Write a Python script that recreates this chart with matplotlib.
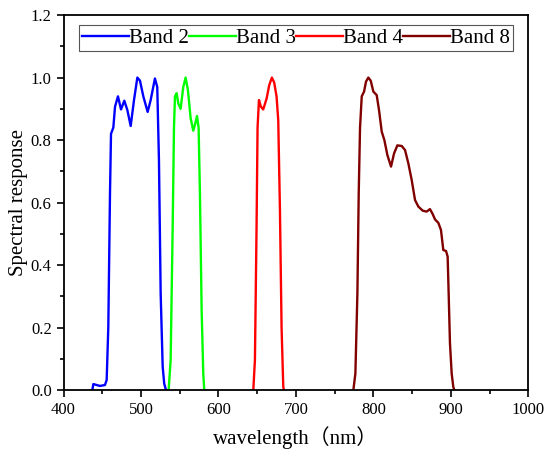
import matplotlib
matplotlib.use("Agg")
from matplotlib import pyplot as plt
from matplotlib.ticker import MultipleLocator

## values
b2_nm = [437.2, 438.5, 442.8, 447.0, 453.5, 455.7, 457.8, 460.0, 461.3, 464.3, 466.5, 470.3,
         474.2, 478.5, 482.4, 486.7, 491.0, 495.3, 498.7, 503.0, 508.6, 512.5, 518.0, 521.0,
         523.2, 525.4, 528.0, 530.0, 532.3]
b2_resp = [0.0, 0.019, 0.016, 0.013, 0.016, 0.032, 0.2, 0.63, 0.82, 0.84, 0.907, 0.94,
           0.898, 0.926, 0.896, 0.845, 0.928, 1.0, 0.99, 0.94, 0.89, 0.928, 0.997, 0.97,
           0.736, 0.31, 0.075, 0.02, 0.0]

b3_nm = [535.7, 538.3, 540.9, 542.6, 543.9, 546.0, 548.2, 551.2, 554.6, 557.6, 560.6, 564.1,
         567.5, 570.1, 572.3, 574.4, 576.1, 578.3, 580.4, 581.7]
b3_resp = [0.0, 0.096, 0.52, 0.84, 0.94, 0.95, 0.917, 0.90, 0.97, 1.0, 0.96, 0.87,
           0.83, 0.853, 0.877, 0.84, 0.63, 0.256, 0.053, 0.0]

b4_nm = [645.0, 647.1, 649.2, 650.5, 652.3, 654.8, 657.8, 662.2, 665.6, 669.0, 672.0, 675.0,
         677.2, 679.4, 681.5, 683.7, 684.5]
b4_resp = [0.0, 0.096, 0.52, 0.84, 0.928, 0.907, 0.898, 0.933, 0.976, 1.0, 0.984, 0.94,
           0.864, 0.576, 0.2, 0.01, 0.0]

b8_nm = [774.2, 776.8, 779.4, 781.1, 782.8, 785.0, 788.0, 790.5, 793.5, 796.6, 800.0, 804.3,
         807.3, 810.8, 814.2, 818.1, 822.8, 826.7, 831.0, 836.6, 840.9, 845.2, 849.5, 853.8,
         858.1, 863.7, 868.8, 873.1, 876.6, 879.6, 883.9, 887.3, 890.3, 893.8, 895.9, 897.2,
         898.9, 901.1, 903.2, 904.5]
b8_resp = [0.0, 0.053, 0.31, 0.63, 0.84, 0.94, 0.955, 0.987, 1.0, 0.99, 0.955, 0.944,
           0.896, 0.827, 0.80, 0.752, 0.715, 0.757, 0.783, 0.781, 0.768, 0.725, 0.672, 0.608,
           0.587, 0.574, 0.571, 0.579, 0.563, 0.546, 0.535, 0.512, 0.448, 0.445, 0.427, 0.31,
           0.15, 0.053, 0.01, 0.0]

bands = ["Band 2", "Band 3", "Band 4", "Band 8"]
colours = ["#0000ff", "#00ff00", "#ff0000", "#800000"]

plt.rcParams["font.family"] = ["Liberation Serif", "Noto Sans CJK SC"]

fig = plt.figure(figsize=(5.5, 4.57), dpi=100)
ax = fig.add_axes([0.1155, 0.1466, 0.845, 0.8204])

for nm, resp, name, c in zip([b2_nm, b3_nm, b4_nm, b8_nm],
                             [b2_resp, b3_resp, b4_resp, b8_resp], bands, colours):
    ax.plot(nm, resp, color=c, lw=1.7, label=name)

ax.set_xlim(400, 1000)
ax.set_ylim(0, 1.2)
ax.xaxis.set_major_locator(MultipleLocator(100))
ax.xaxis.set_minor_locator(MultipleLocator(50))
ax.yaxis.set_major_locator(MultipleLocator(0.2))
ax.yaxis.set_minor_locator(MultipleLocator(0.1))
ax.yaxis.set_major_formatter(plt.FormatStrFormatter("%.1f"))
ax.tick_params(which="both", direction="out", width=1.2, labelsize=12)
ax.tick_params(which="major", length=5)
ax.tick_params(which="minor", length=3)
for s in ax.spines.values():
    s.set_linewidth(1.3)

ax.set_xlabel("wavelength（nm）", fontsize=15, labelpad=6)
ax.set_ylabel("Spectral response", fontsize=15, labelpad=2)

leg = ax.legend(loc="upper center", ncol=4, fontsize=15, handlelength=2.25,
                handletextpad=0.0, columnspacing=0.0, borderpad=0.15,
                borderaxespad=0.5, fancybox=False, framealpha=1)
leg.get_frame().set_edgecolor("#555555")
leg.get_frame().set_linewidth(0.8)

fig.savefig("out.png", dpi=100)
